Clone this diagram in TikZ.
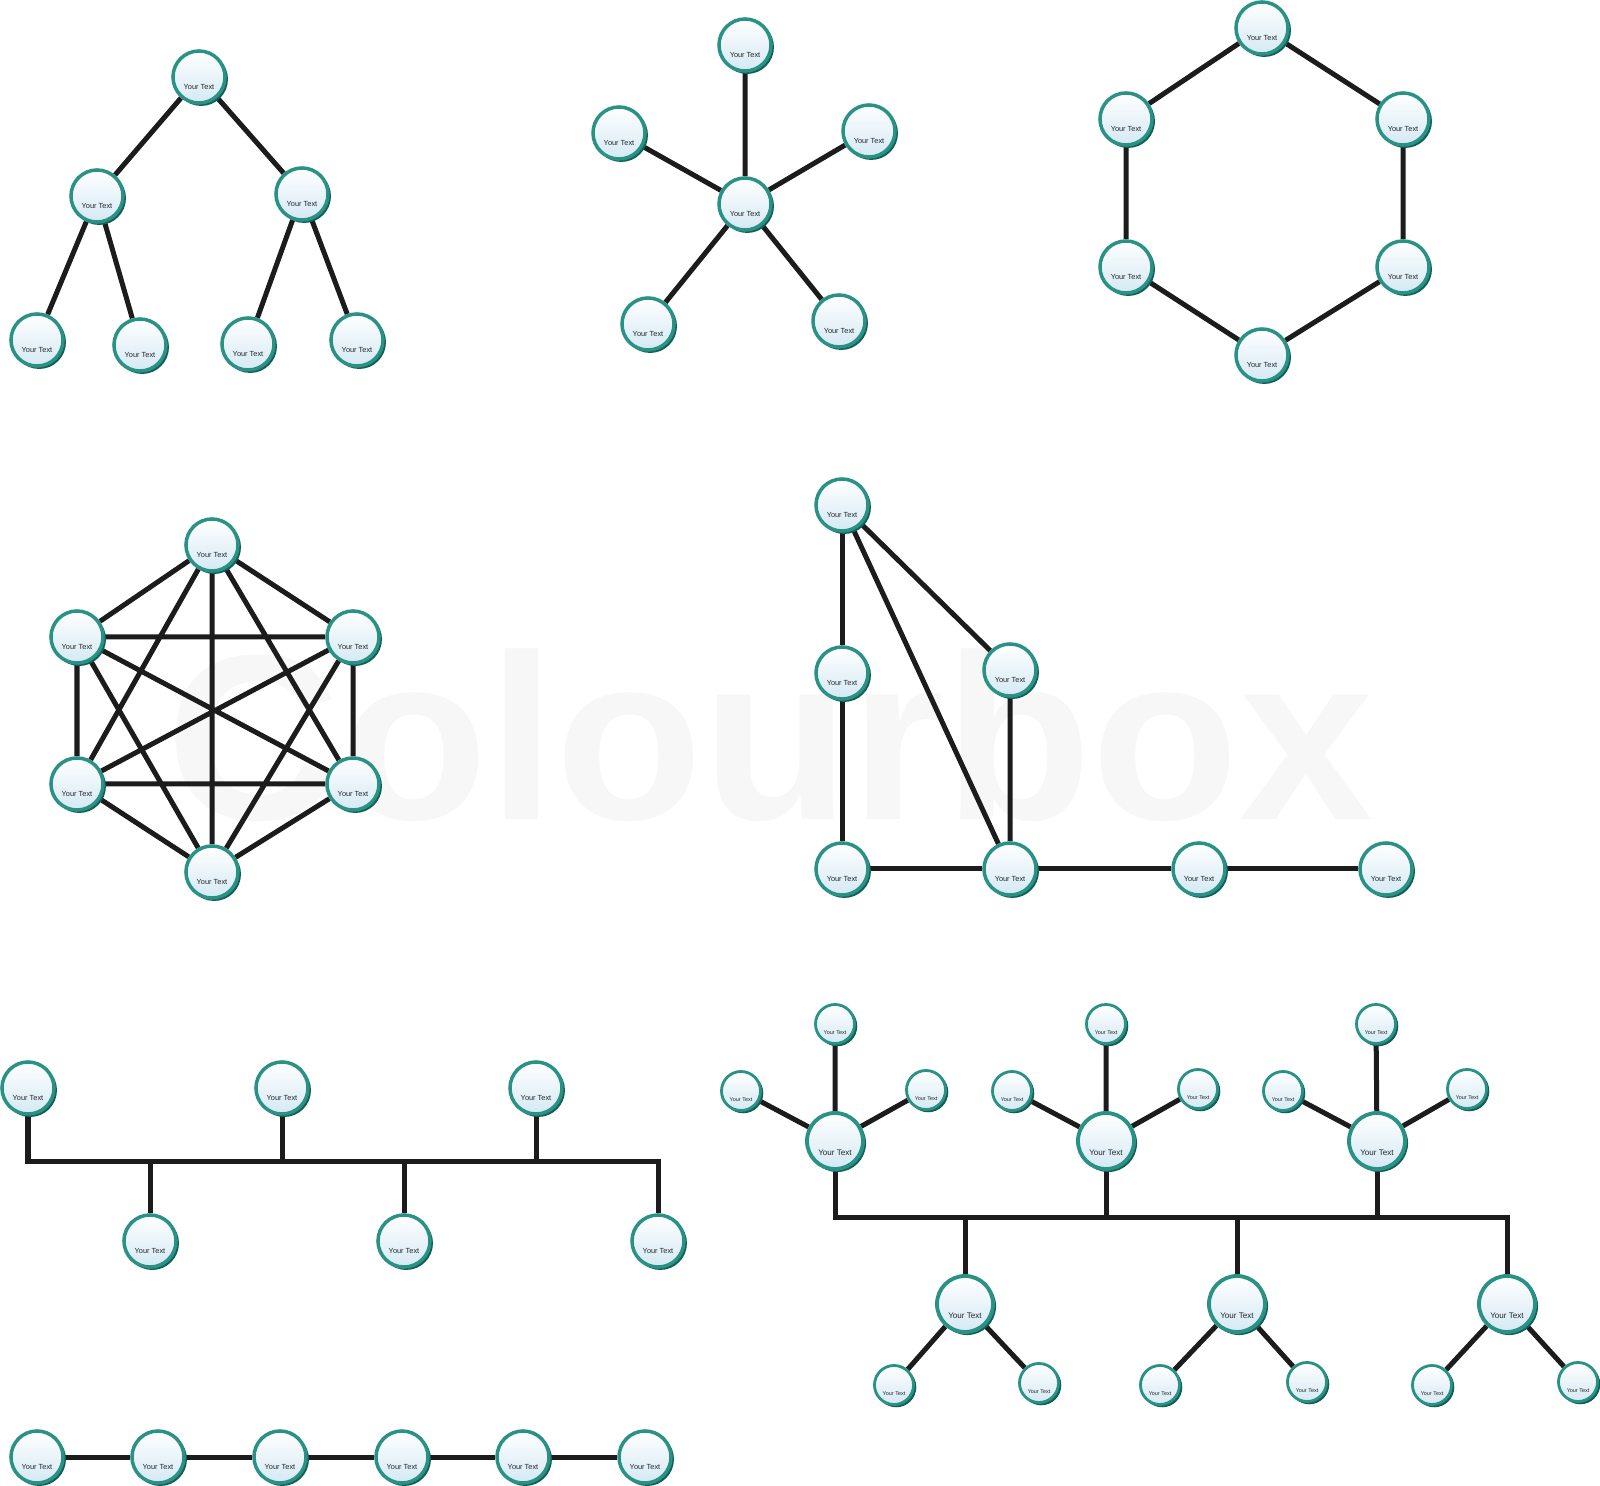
\documentclass[tikz,border=0pt]{standalone}
\usepackage{fontspec}
\setsansfont{Liberation Sans}
\usetikzlibrary{shadows}
\definecolor{ringteal}{RGB}{42,145,133}
\definecolor{shadeteal}{RGB}{18,95,86}
\definecolor{iceblue}{RGB}{212,233,244}
\definecolor{wirebl}{RGB}{28,28,28}
\pgfdeclarelayer{back}
\pgfsetlayers{back,main}
\tikzset{disc/.style={circle,draw=ringteal,line width=1pt,inner sep=0pt,top color=white,bottom color=iceblue,text=black!85,
  drop shadow={shadow xshift=0.6pt,shadow yshift=-0.6pt,fill=shadeteal,opacity=1,shadow scale=1.03}},
  mid node/.style={disc,minimum size=0.52cm,font=\sffamily\fontsize{2.1pt}{2.1pt}\selectfont,text height=7.5pt,text depth=0.3pt},
  small node/.style={disc,minimum size=0.39cm,line width=0.8pt,font=\sffamily\fontsize{1.55pt}{1.55pt}\selectfont,text height=6.4pt,text depth=0.2pt},
  big node/.style={disc,minimum size=0.56cm,line width=1.1pt,font=\sffamily\fontsize{2.3pt}{2.3pt}\selectfont,text height=8.6pt,text depth=0.2pt},
  wire/.style={draw=wirebl,line width=0.05cm}}

\begin{document}
\begin{tikzpicture}[x=0.01cm,y=-0.01cm]
\useasboundingbox (0,0) rectangle (1600,1486);

% binary tree
\node[mid node] (t0) at (199,77) {Your Text};
\node[mid node] (t1) at (97,196) {Your Text};
\node[mid node] (t2) at (302,194) {Your Text};
\node[mid node] (t3) at (37,340) {Your Text};
\node[mid node] (t4) at (140,345) {Your Text};
\node[mid node] (t5) at (248,344) {Your Text};
\node[mid node] (t6) at (357,340) {Your Text};

% star
\node[mid node] (s0) at (745,204) {Your Text};
\node[mid node] (s1) at (745,45) {Your Text};
\node[mid node] (s2) at (619,133) {Your Text};
\node[mid node] (s3) at (869,131) {Your Text};
\node[mid node] (s4) at (648,324) {Your Text};
\node[mid node] (s5) at (839,321) {Your Text};

% ring
\node[mid node] (h1) at (1262,28) {Your Text};
\node[mid node] (h2) at (1403,119) {Your Text};
\node[mid node] (h3) at (1403,267) {Your Text};
\node[mid node] (h4) at (1262,355) {Your Text};
\node[mid node] (h5) at (1126,267) {Your Text};
\node[mid node] (h6) at (1126,119) {Your Text};

% full mesh
\node[mid node] (k1) at (212,545) {Your Text};
\node[mid node] (k2) at (353,637) {Your Text};
\node[mid node] (k3) at (353,784) {Your Text};
\node[mid node] (k4) at (212,872) {Your Text};
\node[mid node] (k5) at (77,784) {Your Text};
\node[mid node] (k6) at (77,637) {Your Text};

% partial mesh
\node[mid node] (m1) at (842,505) {Your Text};
\node[mid node] (m2) at (842,673) {Your Text};
\node[mid node] (m3) at (1010,670) {Your Text};
\node[mid node] (m4) at (842,869) {Your Text};
\node[mid node] (m5) at (1010,869) {Your Text};
\node[mid node] (m6) at (1199,869) {Your Text};
\node[mid node] (m7) at (1386,869) {Your Text};

% bus
\node[mid node] (b1) at (28,1088) {Your Text};
\node[mid node] (b2) at (282,1088) {Your Text};
\node[mid node] (b3) at (536,1088) {Your Text};
\node[mid node] (b4) at (150,1241) {Your Text};
\node[mid node] (b5) at (404,1241) {Your Text};
\node[mid node] (b6) at (658,1241) {Your Text};
\coordinate (busline) at (0,1161);

% line
\node[mid node] (c1) at (37,1457) {Your Text};
\node[mid node] (c2) at (158,1457) {Your Text};
\node[mid node] (c3) at (280,1457) {Your Text};
\node[mid node] (c4) at (402,1457) {Your Text};
\node[mid node] (c5) at (523,1457) {Your Text};
\node[mid node] (c6) at (645,1457) {Your Text};

% tree of stars
\node[big node] (u1) at (835,1141) {Your Text};
\node[big node] (u2) at (1106,1141) {Your Text};
\node[big node] (u3) at (1377,1141) {Your Text};
\node[big node] (d1) at (965,1304) {Your Text};
\node[big node] (d2) at (1237,1304) {Your Text};
\node[big node] (d3) at (1507,1304) {Your Text};
\node[small node] (u1a) at (835,1024) {Your Text};
\node[small node] (u1b) at (741,1091) {Your Text};
\node[small node] (u1c) at (926,1090) {Your Text};
\node[small node] (u2a) at (1106,1024) {Your Text};
\node[small node] (u2b) at (1012,1091) {Your Text};
\node[small node] (u2c) at (1198,1089) {Your Text};
\node[small node] (u3a) at (1376,1024) {Your Text};
\node[small node] (u3b) at (1283,1091) {Your Text};
\node[small node] (u3c) at (1467,1089) {Your Text};
\node[small node] (d1a) at (894,1385) {Your Text};
\node[small node] (d1b) at (1039,1383) {Your Text};
\node[small node] (d2a) at (1160,1385) {Your Text};
\node[small node] (d2b) at (1307,1382) {Your Text};
\node[small node] (d3a) at (1432,1385) {Your Text};
\node[small node] (d3b) at (1578,1382) {Your Text};
\coordinate (trunk) at (0,1217);

\begin{pgfonlayer}{back}
\node[text=black!3,font=\sffamily\bfseries\fontsize{67pt}{67pt}\selectfont,anchor=base,inner sep=0pt] (mark) at (770,820) {\scalebox{1.025}[1]{Colourbox}};
\draw[wire] (t0) -- (t1) (t0) -- (t2) (t1) -- (t3) (t1) -- (t4) (t2) -- (t5) (t2) -- (t6);
\draw[wire] (s0) -- (s1) (s0) -- (s2) (s0) -- (s3) (s0) -- (s4) (s0) -- (s5);
\draw[wire] (h1) -- (h2) -- (h3) -- (h4) -- (h5) -- (h6) -- (h1);
\draw[wire] (k1) -- (k2) (k1) -- (k3) (k1) -- (k4) (k1) -- (k5) (k1) -- (k6)
  (k2) -- (k3) (k2) -- (k4) (k2) -- (k5) (k2) -- (k6)
  (k3) -- (k4) (k3) -- (k5) (k3) -- (k6)
  (k4) -- (k5) (k4) -- (k6) (k5) -- (k6);
\draw[wire] (m1) -- (m2) -- (m4) -- (m5) -- (m6) -- (m7);
\draw[wire] (m1) -- (m5) (m1) -- (m3) -- (m5);
\draw[wire] (b1.center) |- (busline -| b6) -- (b6);
\draw[wire] (b2) -- (b2 |- busline) (b3) -- (b3 |- busline);
\draw[wire] (b4) -- (b4 |- busline) (b5) -- (b5 |- busline);
\draw[wire] (c1) -- (c2) -- (c3) -- (c4) -- (c5) -- (c6);
\draw[wire] (u1.center) |- (trunk -| d3) -- (d3);
\draw[wire] (u2) -- (u2 |- trunk) (u3) -- (u3 |- trunk);
\draw[wire] (d1) -- (d1 |- trunk) (d2) -- (d2 |- trunk);
\draw[wire] (u1) -- (u1a) (u1) -- (u1b) (u1) -- (u1c);
\draw[wire] (u2) -- (u2a) (u2) -- (u2b) (u2) -- (u2c);
\draw[wire] (u3) -- (u3a) (u3) -- (u3b) (u3) -- (u3c);
\draw[wire] (d1) -- (d1a) (d1) -- (d1b);
\draw[wire] (d2) -- (d2a) (d2) -- (d2b);
\draw[wire] (d3) -- (d3a) (d3) -- (d3b);
\end{pgfonlayer}
\end{tikzpicture}
\end{document}
